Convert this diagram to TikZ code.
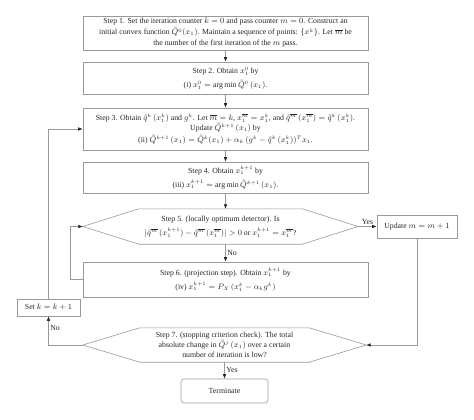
\documentclass[tikz,border=0pt]{standalone}
\usepackage{amsmath}
\usepackage{amssymb}
\usepackage{fontspec}
\setmainfont{Liberation Serif}
\usepackage{tikz}
\usetikzlibrary{arrows.meta, positioning, calc}

\tikzset{
  stepbox/.style={draw=gray!80, line width=0.6pt, fill=white, align=center, inner sep=0pt, text=black!85, font=\fontsize{7.8}{11}\selectfont},
  decbox/.style={draw=none, align=center, inner sep=0pt, text=black!85, font=\fontsize{7.8}{11}\selectfont},
  conn/.style={draw=gray!80, line width=0.6pt, -{Latex[length=4.5pt,width=3.6pt,color=black!85]}},
  lbl/.style={font=\fontsize{7.8}{9}\selectfont, text=black!85, inner sep=1.5pt}
}
\newcommand{\hexa}[2]{\draw [gray!80, line width=0.6pt] ($(#1.north west)+(#2,0)$) -- ($(#1.north east)-(#2,0)$) -- (#1.east) -- ($(#1.south east)-(#2,0)$) -- ($(#1.south west)+(#2,0)$) -- (#1.west) -- cycle;}

\begin{document}
\begin{tikzpicture}[x=1pt, y=-1pt]
\useasboundingbox (0,0) rectangle (474,420);

% main column
\node [stepbox, minimum width=285pt, minimum height=34pt] (s1) at (225.5,33) {Step 1. Set the iteration counter $k=0$ and pass counter $m=0$. Construct an\\ initial convex function $\tilde{Q}^0(x_1)$. Maintain a sequence of points: $\{x^k\}$. Let $\overline{m}$ be\\ the number of the first iteration of the $m$ pass.};
\node [stepbox, minimum width=285pt, minimum height=32pt] (s2) at (225.5,78) {Step 2. Obtain $x_1^0$ by\\[3pt] (i) $x_1^0=\arg\min \tilde{Q}^0\,(x_1)$.};
\node [stepbox, minimum width=285pt, minimum height=42pt] (s3) at (225.5,129) {Step 3. Obtain $\tilde{q}^k\,(x_1^k)$ and $g^k$. Let $\overline{m}=k$, $x_1^{\overline{m}}=x_1^k$, and $\tilde{q}^{\overline{m}}\,(x_1^{\overline{m}})=\tilde{q}^k\,(x_1^k)$.\\[-1pt] Update $\tilde{Q}^{k+1}\,(x_1)$ by\\[1pt] (ii) $\tilde{Q}^{k+1}\,(x_1)=\tilde{Q}^k(x_1)+\alpha_k\,(g^k-\tilde{q}^k\,(x_1^k))^T x_1$.};
\node [stepbox, minimum width=285pt, minimum height=31pt] (s4) at (225.5,177.5) {Step 4. Obtain $x_1^{k+1}$ by\\[3pt] (iii) $x_1^{k+1}=\arg\min \tilde{Q}^{k+1}\,(x_1)$.};
\node [decbox, minimum width=275pt, minimum height=35pt] (s5) at (220.5,226.5) {Step 5. (locally optimum detector). Is\\[3pt] $|\tilde{q}^{\overline{m}}\,(x_1^{k+1})-\tilde{q}^{\overline{m}}\,(x_1^{\overline{m}})|>0$ or $x_1^{k+1}=x_1^{\overline{m}}$?};
\hexa{s5}{56}
\node [stepbox, minimum width=285pt, minimum height=35pt] (s6) at (225.5,279.5) {Step 6. (projection step). Obtain $x_1^{k+1}$ by\\[3pt] (iv) $x_1^{k+1}=P_X\,(x_1^k-\alpha_k g^k)$};
\node [decbox, minimum width=283pt, minimum height=34pt] (s7) at (224.5,345) {Step 7. (stopping criterion check). The total\\[-1pt] absolute change in $\tilde{Q}^j\,(x_1)$ over a certain\\[-1pt] number of iteration is low?};
\hexa{s7}{57}
\node [stepbox, rounded corners=3pt, minimum width=87pt, minimum height=24pt] (term) at (224.5,391) {Terminate};

% side boxes
\node [stepbox, minimum width=80pt, minimum height=23pt] (upd) at (417,226.5) {Update $m=m+1$};
\node [stepbox, minimum width=63pt, minimum height=17pt] (setk) at (48.5,307.5) {Set $k=k+1$};

% connectors
\draw [conn] (s1) -- (s2);
\draw [conn] (s2) -- (s3);
\draw [conn] (s3) -- (s4);
\draw [conn] (s4.south) -- (s4.south |- s5.north);
\draw [conn] (s5.south -| s6.north) -- node [lbl, right] {No} (s6.north);
\draw [conn] (s5.east) -- node [lbl, above] {Yes} (upd.west);
\draw [conn] (s6.west) -- ++(-12,0) |- (s5.west);
\draw [conn] (setk.north) |- (s3.west);
\draw [conn] (s7.west) -| node [lbl, right, pos=0.8] {No} (setk.south);
\draw [conn] (upd.south) |- (s7.east);
\draw [conn] (s7.south) -- node [lbl, right] {Yes} (term.north);
\end{tikzpicture}
\end{document}
